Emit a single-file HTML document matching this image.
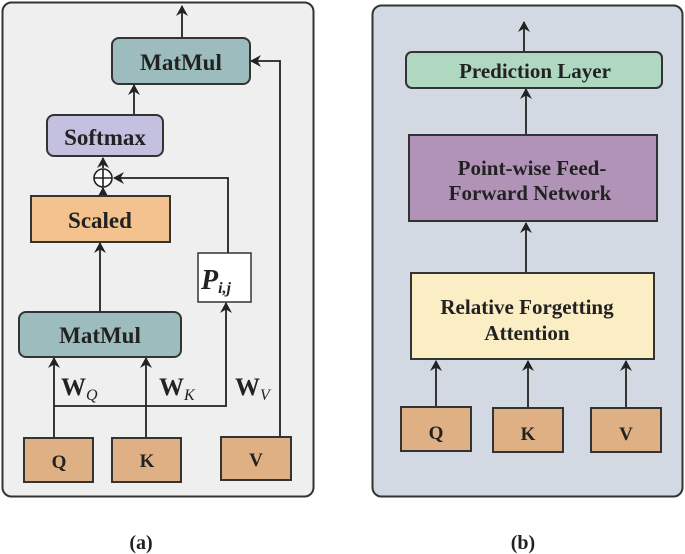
<!DOCTYPE html>
<html><head><style>body{margin:0;background:#fff}svg{display:block}text{font-family:"Liberation Serif",serif;font-weight:bold;fill:#222}</style></head><body>
<svg width="685" height="554" viewBox="0 0 685 554" xmlns="http://www.w3.org/2000/svg">
<defs><marker id="a" markerWidth="14" markerHeight="14" refX="10" refY="6" orient="auto" markerUnits="userSpaceOnUse"><path d="M0,0 L11,6 L0,12 L3.5,6z" fill="#222"/></marker></defs>
<rect x="2.5" y="2.5" width="311" height="494" rx="9" fill="#eeefee" stroke="#333" stroke-width="2"/>
<rect x="372.5" y="5.5" width="310" height="491" rx="9" fill="#d2d9e2" stroke="#333" stroke-width="2"/>
<g stroke="#222" stroke-width="1.8" fill="none" marker-end="url(#a)">
<path d="M182,37 V6"/><path d="M134,115 V85"/><path d="M103,168 V158"/><path d="M103,196 V188"/>
<path d="M228,253 V178 H114"/><path d="M100,312 V243"/><path d="M54,438 V358"/><path d="M146,438 V358"/>
<path d="M54,406 H226 V303"/><path d="M280,437 V61 H251"/>
<path d="M524,52 V22"/><path d="M526,135 V89"/><path d="M526,272 V223"/>
<path d="M436,407 V361"/><path d="M528,408 V361"/><path d="M626,408 V361"/>
</g>
<g stroke="#333" stroke-width="2">
<rect x="112" y="38" width="138" height="46" rx="7" fill="#9dbcbd"/>
<rect x="47" y="115" width="116" height="41" rx="7" fill="#c4c0e0"/>
<rect x="31" y="196" width="139" height="46" fill="#f3c28f"/>
<rect x="198" y="253" width="53" height="49" fill="#fff" stroke-width="1.5"/>
<rect x="19" y="312" width="162" height="45" rx="7" fill="#9dbcbd"/>
<rect x="24" y="438" width="69" height="44" fill="#deb084"/>
<rect x="112" y="438" width="69" height="44" fill="#deb084"/>
<rect x="221" y="437" width="70" height="43" fill="#deb084"/>
<rect x="406" y="52" width="256" height="36" rx="6" fill="#b0d8c0"/>
<rect x="409" y="135" width="248" height="86" fill="#b193b7"/>
<rect x="411" y="273" width="243" height="86" fill="#fbeec4"/>
<rect x="401" y="407" width="70" height="44" fill="#deb084"/>
<rect x="493" y="408" width="70" height="44" fill="#deb084"/>
<rect x="591" y="408" width="70" height="44" fill="#deb084"/>
</g>
<circle cx="103" cy="178" r="9" fill="#fff" stroke="#222" stroke-width="1.6"/>
<path d="M94,178 H112 M103,169 V187" stroke="#222" stroke-width="1.6"/>
<g font-size="23" text-anchor="middle">
<text x="181" y="70">MatMul</text><text x="105" y="145">Softmax</text><text x="100" y="228">Scaled</text>
<text x="100" y="343">MatMul</text>
<text x="59" y="468" font-size="19">Q</text><text x="147" y="467" font-size="19">K</text><text x="256" y="466" font-size="19">V</text>
<text x="535" y="78" font-size="21">Prediction Layer</text>
<text x="532" y="175" font-size="21">Point-wise Feed-</text><text x="530" y="200" font-size="21">Forward Network</text>
<text x="527" y="314" font-size="21">Relative Forgetting</text><text x="527" y="340" font-size="21">Attention</text>
<text x="436" y="439" font-size="19">Q</text><text x="528" y="440" font-size="19">K</text><text x="626" y="440" font-size="19">V</text>
<text x="141" y="549" font-size="20">(a)</text><text x="523" y="549" font-size="20">(b)</text>
</g>
<g font-size="25">
<text x="61" y="395">W<tspan font-size="16" font-style="italic" font-weight="normal" dy="5">Q</tspan></text>
<text x="159" y="395">W<tspan font-size="16" font-style="italic" font-weight="normal" dy="5">K</tspan></text>
<text x="235" y="395">W<tspan font-size="16" font-style="italic" font-weight="normal" dy="5">V</tspan></text>
<text x="201" y="289" font-size="28" font-style="italic" font-weight="normal">P<tspan font-size="16" dy="4">i,j</tspan></text>
</g>
</svg>
</body></html>
